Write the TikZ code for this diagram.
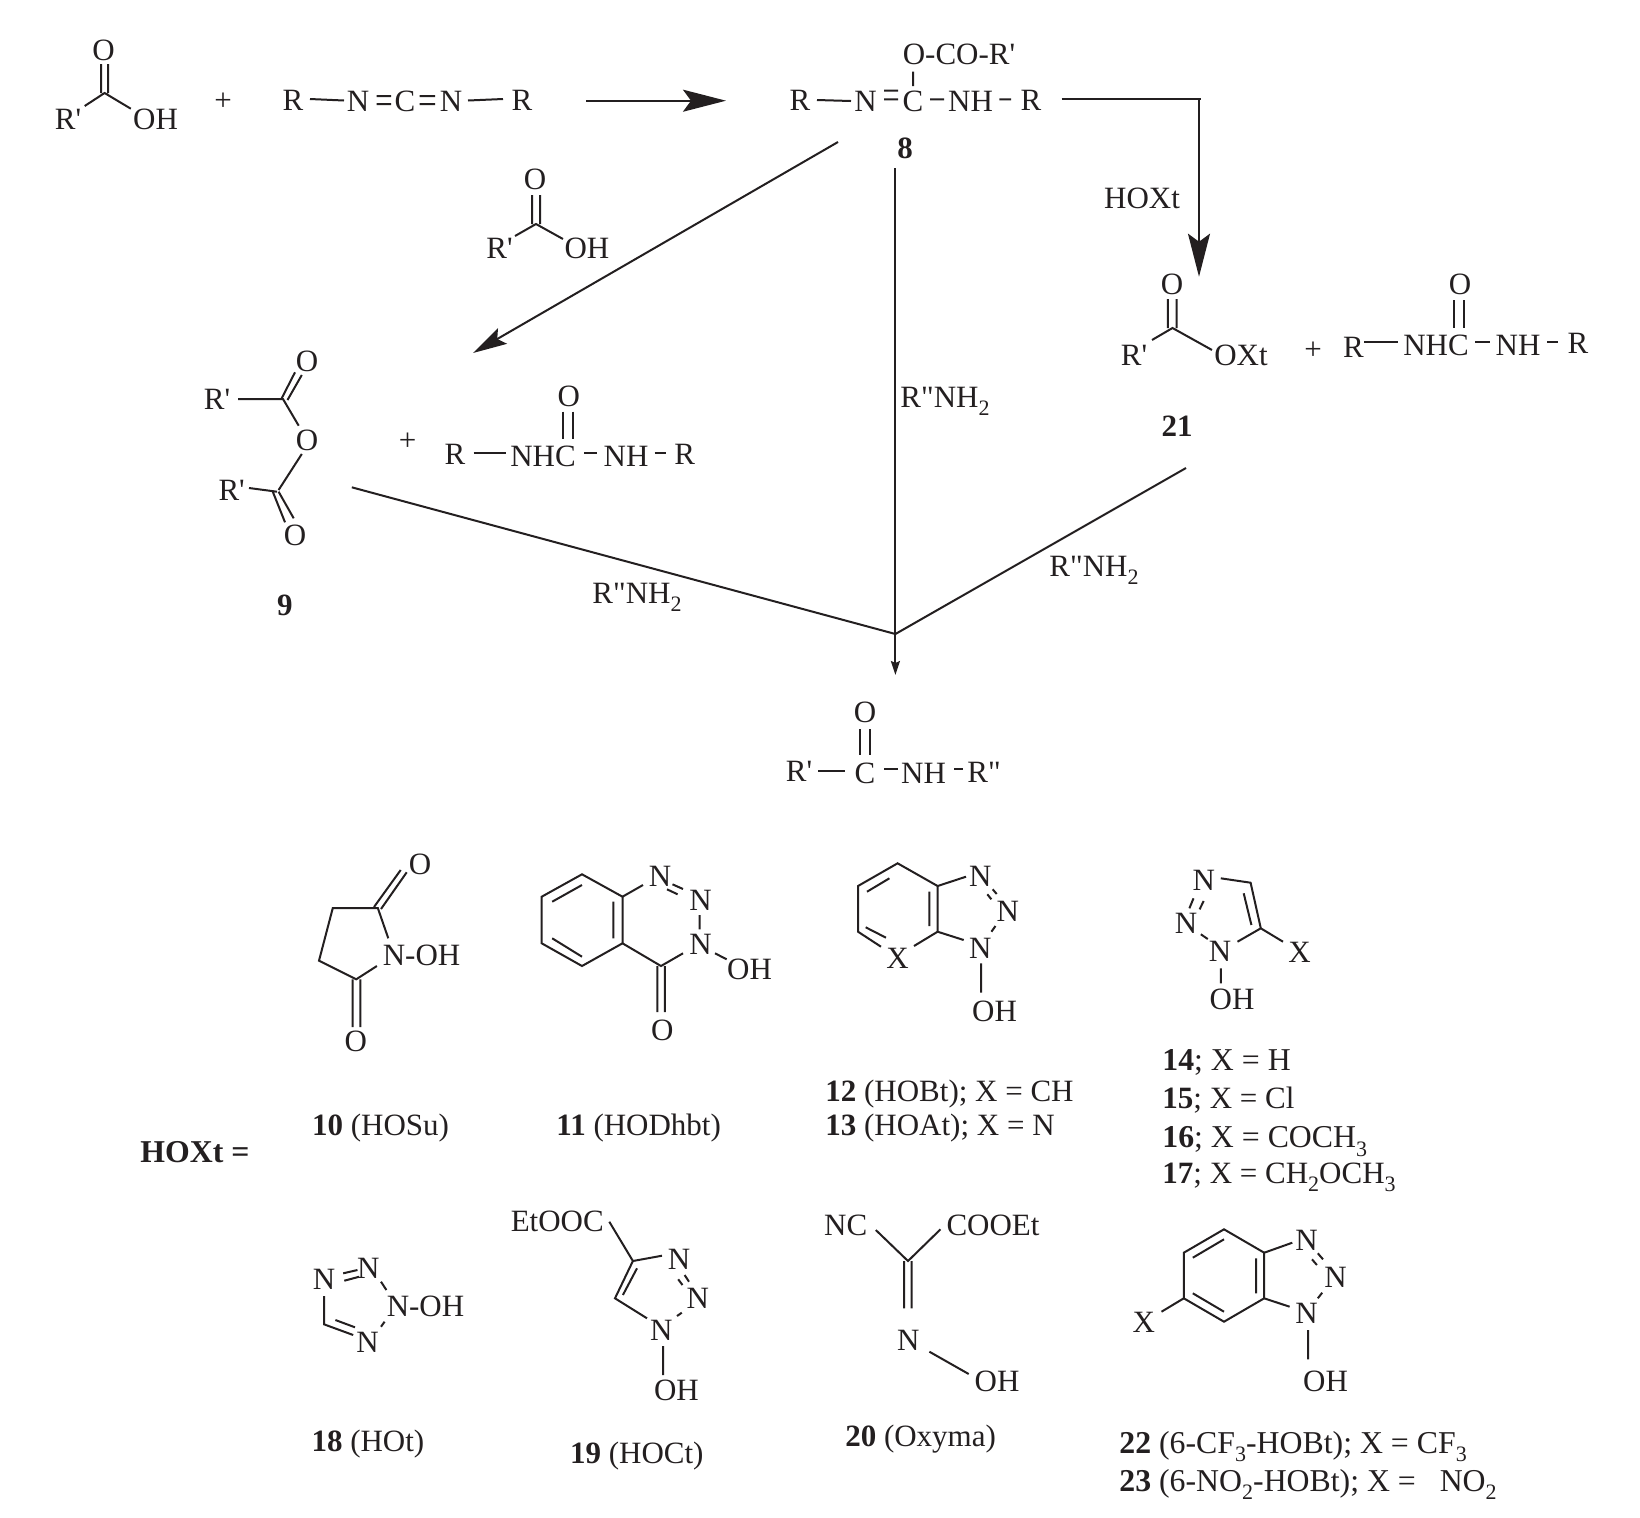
\documentclass[tikz,border=0pt]{standalone}
\usepackage{fontspec}
\usetikzlibrary{arrows.meta}
\setmainfont{Liberation Serif}
\newfontfamily\plainserif{Liberation Serif}
\newcommand{\subn}[1]{\raisebox{-0.27em}{\fontsize{11}{11}\selectfont #1}}
\definecolor{ink}{HTML}{231F20}
\tikzset{
  atom/.style={inner sep=0pt,anchor=base,yshift=-5pt,text=ink,font=\plainserif\fontsize{15.5}{18}\selectfont},
  leftlabel/.style={atom,anchor=base west},
  widelabel/.style={leftlabel,font=\plainserif\fontsize{15.9}{18}\selectfont},
  boldlabel/.style={atom,font=\plainserif\bfseries\fontsize{15.5}{18}\selectfont},
  bond/.style={draw=ink,line width=1pt},
  rxn/.style={draw=ink,line width=1pt},
  bighead/.style={rxn,-{Stealth[length=21.5pt,width=11pt,inset=4pt]}},
  midhead/.style={rxn,-{Stealth[length=17pt,width=9pt,inset=3pt]}},
  smallhead/.style={rxn,-{Stealth[length=7pt,width=4.5pt,inset=1pt]}}
}
\begin{document}
\begin{tikzpicture}[x=.5pt,y=-.5pt]
\useasboundingbox (0,0) rectangle (1640,1517);
% top left acid
\node[atom] (a1O) at (103.6,50) {O};
\node[atom] (a1R) at (68,119) {R'};
\node[atom] (a1OH) at (155.6,119) {OH};
\draw[bond] (101,64)--(101,93) (108,64)--(108,93) (84.7,106)--(104.6,93)--(130.8,108.7);
\node[atom] (plus1) at (223,100) {+};
% carbodiimide
\node[atom] (c1) at (293,100) {R};
\node[atom] (c2) at (358,101.7) {N};
\node[atom] (c3) at (405,101.7) {C};
\node[atom] (c4) at (451,101.7) {N};
\node[atom] (c5) at (522,100) {R};
\draw[bond] (310,99)--(344,100.5) (376.6,96)--(391,96) (376.6,104)--(391,104) (419.5,96)--(435,96) (419.5,104)--(435,104) (468,100.5)--(503,99);
\coordinate (ar1s) at (586,100.7);
\coordinate (ar1e) at (726,100.7);
\draw[bighead] (ar1s)--(ar1e);
% O-acylisourea 8
\node[atom] (e1) at (800,100) {R};
\node[atom] (e2) at (865.5,101.7) {N};
\node[atom] (e3) at (913,101.7) {C};
\node[atom] (e4) at (970.6,101.7) {NH};
\node[atom] (e5) at (1031,100) {R};
\node[atom] (e6) at (959,54) {O-CO-R'};
\draw[bond] (817,100)--(851,101) (884,90.7)--(898,90.7) (884,99.3)--(898,99.3) (913,71.7)--(913,86) (930,99.3)--(944,99.3) (999.4,99.3)--(1011,99.3);
\node[boldlabel] (lab8) at (905,148) {8};
% right branch
\coordinate (br1) at (1061.6,99.3);
\coordinate (br2) at (1199,99.3);
\coordinate (br3) at (1199,276.7);
\draw[rxn] (br1)--(1201,99.3);
\draw[bighead] (br2)--(br3);
\node[atom] (hoxt1) at (1142,198) {HOXt};
% second acid
\node[atom] (a2O) at (535,179) {O};
\node[atom] (a2R) at (499.5,248) {R'};
\node[atom] (a2OH) at (587,248) {OH};
\draw[bond] (532,195)--(532,224) (540,195)--(540,224) (515,236)--(536,224)--(563,239);
\coordinate (ar2s) at (838,142);
\coordinate (ar2e) at (473,353);
\draw[midhead] (ar2s)--(ar2e);
% 21
\node[atom] (b1O) at (1172,284) {O};
\node[atom] (b1R) at (1134,355) {R'};
\node[atom] (b1X) at (1241,355.7) {OXt};
\draw[bond] (1167.8,299)--(1167.8,328) (1176.7,299)--(1176.7,328) (1152,340)--(1172.5,328)--(1212,350);
\node[atom] (plus3) at (1313,349) {+};
\node[boldlabel] (lab21) at (1177,426.7) {21};
% urea right
\node[atom] (u1) at (1353.5,347) {R};
\node[atom] (u2) at (1436,345) {NHC};
\node[atom] (u3) at (1518,345) {NH};
\node[atom] (u4) at (1578,343) {R};
\node[atom] (u5) at (1460,284) {O};
\draw[bond] (1364,342)--(1398,342) (1454,300)--(1454,328) (1464,300)--(1464,328) (1475,341.7)--(1489.5,341.7) (1547,341.7)--(1557.5,341.7);
% anhydride 9
\node[atom] (h1) at (307,361) {O};
\node[atom] (h2) at (217,399) {R'};
\node[atom] (h3) at (307,440) {O};
\node[atom] (h4) at (231.7,490) {R'};
\node[atom] (h5) at (295,535.7) {O};
\draw[bond] (281.7,398.3)--(295,372.3) (287.5,400)--(301.8,375) (238,399)--(283,399)--(298.7,425.7);
\draw[bond] (301.8,454)--(278.6,490) (249,488)--(277,491.7) (272.8,491.7)--(285,522.3) (278.6,491.7)--(293.7,518.3);
\node[boldlabel] (lab9) at (284.8,605.7) {9};
\node[atom] (plus2) at (407.6,440) {+};
% urea middle
\node[atom] (v1) at (455,454) {R};
\node[atom] (v2) at (543,456.7) {NHC};
\node[atom] (v3) at (626,456.7) {NH};
\node[atom] (v4) at (684.8,454) {R};
\node[atom] (v5) at (568.8,396.7) {O};
\draw[bond] (473.7,453)--(505.8,453) (563,411.7)--(563,439) (573,411.7)--(573,439) (584,453)--(597.3,453) (654.5,453)--(665.6,453);
% central lines
\coordinate (junc) at (895.4,634);
\coordinate (l1) at (351.8,487.3);
\coordinate (l2) at (895.4,168);
\coordinate (l3) at (1186,468);
\coordinate (prod) at (895.4,675);
\draw[rxn] (l1)--(junc);
\draw[rxn] (l2)--(junc);
\draw[rxn] (l3)--(junc);
\draw[smallhead] (junc)--(prod);
\node[atom] (r1) at (637,593) {R"NH\subn{2}};
\node[atom] (r2) at (945,397) {R"NH\subn{2}};
\node[atom] (r3) at (1094,566) {R"NH\subn{2}};
% amide product
\node[atom] (p1) at (799,771) {R'};
\node[atom] (p2) at (865,773) {C};
\node[atom] (p3) at (923.6,773) {NH};
\node[atom] (p4) at (984,772) {R"};
\node[atom] (p5) at (865,712) {O};
\draw[bond] (818,771)--(845,771) (860,729)--(860,755) (870,729)--(870,755) (884,769)--(897.5,769) (954,769)--(963,769);
% HOXt =
\node[boldlabel,font=\plainserif\bfseries\fontsize{15.9}{18}\selectfont] (hoxt2) at (195,1152) {HOXt =};
% 10
\node[atom] (s1) at (421.6,955) {N-OH};
\node[atom] (s2) at (420,864) {O};
\node[atom] (s3) at (355.7,1041) {O};
\draw[bond] (388.3,938.3)--(377.8,908)--(332.8,908)--(319,960.7)--(356.2,979.3)--(376.9,966);
\draw[bond] (374,907)--(400.7,870) (381,909)--(406.7,872.3) (352.5,979.3)--(352.5,1027) (360.3,979.3)--(360.3,1027);
\node[atom] (lab10) at (380.5,1125.7) {\textbf{10} (HOSu)};
% 11
\node[atom] (d1) at (660,876) {N};
\node[atom] (d2) at (700.6,900) {N};
\node[atom] (d3) at (700.6,944.3) {N};
\node[atom] (d4) at (749.6,969) {OH};
\node[atom] (d5) at (662.4,1030.7) {O};
\draw[bond] (582,874.3)--(622.5,896.7)--(622.5,943.3)--(582,966)--(541.7,943.3)--(541.7,896.7)--cycle;
\draw[bond] (552.2,901.7)--(582,885) (613.3,901.7)--(613.3,938.3) (552.2,938.3)--(582,956.7);
\draw[bond] (622.5,896.7)--(643,885) (672.5,884.3)--(683,889) (667,889.3)--(677.6,894.3) (699.6,915)--(699.6,929.3) (715,953.3)--(726.7,959.3);
\draw[bond] (622.5,943.3)--(661,966)--(683,953.3) (657.4,966)--(657.4,1012) (664.8,966)--(664.8,1012);
\node[atom] (lab11) at (638.7,1125.7) {\textbf{11} (HODhbt)};
% 12
\node[atom] (g1) at (980.4,876) {N};
\node[atom] (g2) at (1007.8,911.7) {N};
\node[atom] (g3) at (980.4,948.3) {N};
\node[atom] (g4) at (897.6,958) {X};
\node[atom] (g5) at (994.5,1011.7) {OH};
\draw[bond] (881,946.7)--(858,931.7)--(858,886)--(897.6,863.3)--(937.6,886)--(937.6,931.7)--(914,946);
\draw[bond] (867,891.7)--(889.4,878.3) (929.4,891.7)--(929.4,926) (865.7,927.3)--(886,937.7);
\draw[bond] (937.6,886)--(966,876.7) (937.6,931.7)--(963.7,940) (992.7,889.3)--(996.7,894) (987.3,894.3)--(991.4,899.3) (995.5,926)--(991.4,931.7) (981.2,963.3)--(981.2,992.7);
\node[leftlabel] (lab12) at (825,1091) {\textbf{12} (HOBt); X = CH};
\node[leftlabel] (lab13) at (825,1125) {\textbf{13} (HOAt); X = N};
% 14
\node[atom] (t1) at (1203.7,880) {N};
\node[atom] (t2) at (1186,923.3) {N};
\node[atom] (t3) at (1220,951.7) {N};
\node[atom] (t4) at (1299.6,952.7) {X};
\node[atom] (t5) at (1232,999.3) {OH};
\draw[bond] (1220.8,878.3)--(1250.6,882.7)--(1260.8,928.3)--(1283,941.7) (1260.8,928.3)--(1237.5,941.7) (1243.7,893.3)--(1251.4,925);
\draw[bond] (1200.8,934.3)--(1207.8,939) (1193.5,898.3)--(1189.4,908.3) (1203.7,901)--(1199.6,909.3) (1220.8,968.3)--(1220.8,983.3);
\node[widelabel] (lab14) at (1162,1060) {\textbf{14}; X = H};
\node[leftlabel] (lab15) at (1162,1098.3) {\textbf{15}; X = Cl};
\node[widelabel] (lab16) at (1162,1137.7) {\textbf{16}; X = COCH\subn{3}};
\node[leftlabel] (lab17) at (1162,1173.3) {\textbf{17}; X = CH\subn{2}OCH\subn{3}};
% 18
\node[atom] (w1) at (324,1279.3) {N};
\node[atom] (w2) at (368.2,1268.3) {N};
\node[atom] (w3) at (425.5,1306.7) {N-OH};
\node[atom] (w4) at (367.5,1342.7) {N};
\draw[bond] (343.2,1273.3)--(357.5,1270) (344.3,1280.7)--(359.3,1276.7) (381,1281.7)--(386.4,1290) (384.6,1321.7)--(381,1326.7);
\draw[bond] (324,1296)--(324,1324.3)--(353.2,1335) (335.4,1320)--(355,1327.3);
\node[atom] (lab18) at (367.9,1441.7) {\textbf{18} (HOt)};
% 19
\node[atom] (k1) at (557.3,1221) {EtOOC};
\node[atom] (k2) at (679,1259) {N};
\node[atom] (k3) at (697.9,1298.3) {N};
\node[atom] (k4) at (661.4,1330) {N};
\node[atom] (k5) at (676.4,1390) {OH};
\draw[bond] (609.3,1221.7)--(632.9,1261)--(662,1255.7) (632.9,1261)--(615,1298.3)--(647,1318.3) (637,1268.3)--(622.9,1295);
\draw[bond] (678.2,1279.3)--(682.5,1285) (684.6,1275)--(689,1281.7) (681.8,1312.7)--(677,1316) (663.2,1346)--(663.2,1375);
\node[atom] (lab19) at (636.8,1453.3) {\textbf{19} (HOCt)};
% 20
\node[atom] (o1) at (845.7,1225) {NC};
\node[atom] (o2) at (993,1225) {COOEt};
\node[atom] (o3) at (908.4,1340) {N};
\node[atom] (o4) at (997,1381.7) {OH};
\draw[bond] (875.8,1230)--(908,1261)--(940.5,1229.3) (904,1261)--(904,1308.3) (911.5,1261)--(911.5,1308.3) (929.4,1351.7)--(968.7,1374);
\node[atom] (lab20) at (920.6,1436.5) {\textbf{20} (Oxyma)};
% 22
\node[atom] (q1) at (1306.6,1240) {N};
\node[atom] (q2) at (1335.6,1277.7) {N};
\node[atom] (q3) at (1306.6,1313.3) {N};
\node[atom] (q4) at (1143.7,1322.7) {X};
\node[atom] (q5) at (1325.5,1381.7) {OH};
\draw[bond] (1224,1229.3)--(1264.2,1252.7)--(1264.2,1298.3)--(1224,1321.7)--(1183.8,1298.3)--(1183.8,1252.7)--cycle;
\draw[bond] (1192.8,1257.7)--(1224,1239.3) (1256.2,1258.3)--(1256.2,1293.3) (1192.8,1293.3)--(1224,1311.7);
\draw[bond] (1264.2,1252.7)--(1292.3,1242.7) (1264.2,1298.3)--(1289.6,1306.7) (1317.8,1253.3)--(1323,1259.3) (1312,1259.3)--(1316.9,1265) (1322.2,1292.7)--(1317.8,1298.3) (1183.8,1298.3)--(1161.5,1311.7) (1308,1330)--(1308,1359.3);
\node[widelabel] (lab22) at (1119,1443.3) {\textbf{22} (6-CF\subn{3}-HOBt); X = CF\subn{3}};
\node[widelabel] (lab23) at (1119,1481) {\textbf{23} (6-NO\subn{2}-HOBt); X =\ \ \ NO\subn{2}};
\end{tikzpicture}
\end{document}
